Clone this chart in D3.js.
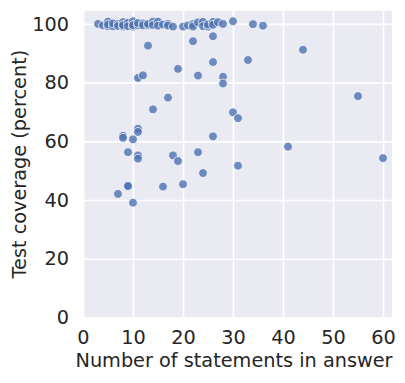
<!DOCTYPE html>
<html>
<head>
<meta charset="utf-8">
<script src="https://cdn.jsdelivr.net/npm/d3@7"></script>
<style>
  body { margin: 0; background: #ffffff; }
  svg { display: block; }
  text { font-family: "DejaVu Sans", sans-serif; fill: #262626; }
</style>
</head>
<body>
<div id="chart"></div>
<script>
// Number of statements in answer (x) and test coverage in percent (y)
const statements = [
  3, 4, 5, 5, 5, 6, 6, 7, 7, 8, 8, 8, 9, 9, 10, 10, 10, 11, 11, 12, 12, 13, 13,
  14, 14, 15, 15, 16, 17, 17, 18, 20, 21, 22, 22, 23, 24, 24, 25, 25, 26, 26,
  27, 28, 30, 34, 36,
  13, 19, 11, 12, 17, 14, 11, 11, 8, 8, 10, 9, 11, 11, 18, 19, 9, 9, 7, 10,
  16, 20, 22, 26, 26, 33, 23, 28, 28, 30, 31, 26, 23, 24, 31, 41, 44, 55, 60
];
const coverage = [
  100, 99.5, 100.8, 99.2, 99.8, 99.2, 100.2, 100, 99.3, 100.6, 99.1, 99.6, 100.4, 99.2,
  100.9, 99.1, 99.6, 99.6, 100.3, 100.2, 99.5, 99.5, 100,
  100.8, 99.6, 100.8, 99.4, 99.8, 100, 99.4, 99.1, 99.1, 99.5, 99.9, 99.1, 100.5, 100.7,
  99.2, 99.1, 99.8, 100.7, 99.7, 100.6, 100, 100.9, 99.9, 99.4,
  92.6, 84.7, 81.6, 82.5, 74.9, 70.9, 64.3, 63.2, 61.9, 61.2, 60.7, 56.3, 55.2, 54.1,
  55.2, 53.3, 44.6, 44.8, 42.1, 39.1, 44.6, 45.4, 94.1, 95.8, 87.0, 87.7, 82.4, 82.0,
  79.7, 69.9, 67.9, 61.7, 56.3, 49.2, 51.7, 58.2, 91.2, 75.4, 54.3
];
const xTicks = [0, 10, 20, 30, 40, 50, 60];
const yTicks = [0, 20, 40, 60, 80, 100];
const xLabel = "Number of statements in answer";
const yLabel = "Test coverage (percent)";

const W = 405, H = 383;
const m = { left: 84, right: 13, top: 10.7, bottom: 65.5 };
const FS = 19.3;

const svg = d3.select("#chart").append("svg").attr("width", W).attr("height", H);

const x = d3.scaleLinear().domain([0.2, 61.8]).range([m.left, W - m.right]);
const y = d3.scaleLinear().domain([0, 104.5]).range([H - m.bottom, m.top]);

svg.append("rect")
  .attr("x", m.left).attr("y", m.top)
  .attr("width", W - m.left - m.right).attr("height", H - m.top - m.bottom)
  .attr("fill", "#eaeaf2");

const xAxis = svg.append("g")
  .attr("transform", `translate(0,${H - m.bottom})`)
  .call(d3.axisBottom(x).tickValues(xTicks).tickSize(-(H - m.top - m.bottom)).tickPadding(13));
const yAxis = svg.append("g")
  .attr("transform", `translate(${m.left},0)`)
  .call(d3.axisLeft(y).tickValues(yTicks).tickSize(-(W - m.left - m.right)).tickPadding(15));

[xAxis, yAxis].forEach(g => {
  g.select(".domain").remove();
  g.selectAll(".tick line").attr("stroke", "#ffffff").attr("stroke-width", 1.6);
  g.selectAll(".tick text").attr("font-size", FS).attr("fill", "#262626")
    .style("font-family", '"DejaVu Sans", sans-serif');
});
xAxis.selectAll(".tick text").attr("dy", "0.72em");

const pts = statements.map((s, i) => ({ s, c: coverage[i] }));
svg.append("g").selectAll("circle").data(pts).join("circle")
  .attr("cx", d => x(d.s))
  .attr("cy", d => y(d.c))
  .attr("r", 4.4)
  .attr("fill", "#4c72b0")
  .attr("fill-opacity", 0.8)
  .attr("stroke", "#ffffff")
  .attr("stroke-width", 0.75);

svg.append("text")
  .attr("x", (m.left + W - m.right) / 2 - 4)
  .attr("y", 367)
  .attr("text-anchor", "middle")
  .attr("font-size", FS)
  .text(xLabel);

svg.append("text")
  .attr("transform", `translate(26,${(m.top + H - m.bottom) / 2}) rotate(-90)`)
  .attr("text-anchor", "middle")
  .attr("font-size", FS)
  .text(yLabel);
</script>
</body>
</html>
